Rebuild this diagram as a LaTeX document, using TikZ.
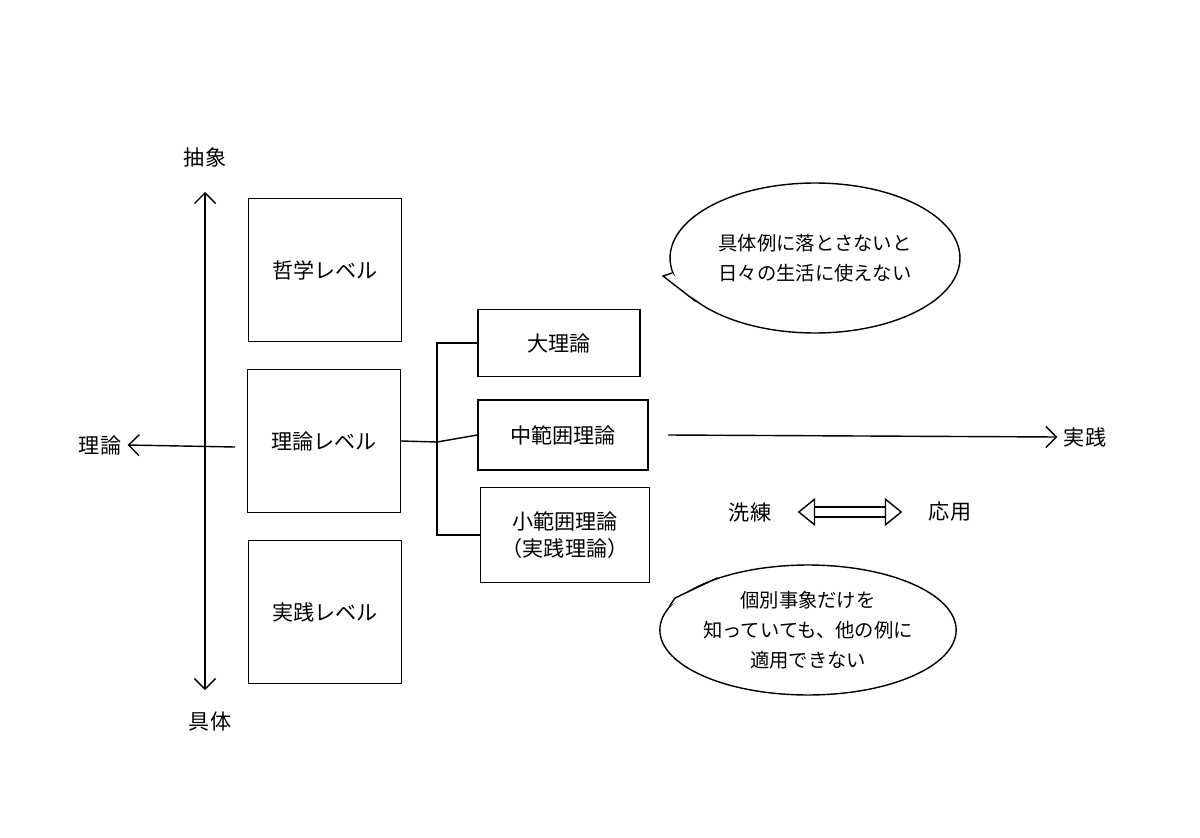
\documentclass[tikz,border=0pt]{standalone}
\usepackage{fontspec}
\setmainfont{Noto Sans CJK JP}
\usetikzlibrary{shapes.geometric,arrows.meta,calc}
\tikzset{
  lvl/.style={draw,thick,minimum width=3.06cm,minimum height=2.85cm,font=\fontsize{12}{15}\selectfont},
  thy/.style={draw,thick,font=\fontsize{12}{15}\selectfont,align=center},
  lbl/.style={font=\fontsize{12}{15}\selectfont},
  bub/.style={draw,thick,ellipse,inner sep=0pt,align=center,font=\fontsize{11}{17}\selectfont}
}
\begin{document}
\begin{tikzpicture}[x=0.02cm,y=-0.02cm,thick]
  \useasboundingbox (0,0) rectangle (1200,838);
  % axis
  \node[lbl] (abs) at (205,157) {抽象};
  \node[lbl] (con) at (210,722) {具体};
  \coordinate (ax1) at (205,192);
  \coordinate (ax2) at (205,690);
  \draw[{Straight Barb[length=6pt]}-{Straight Barb[length=6pt]}] (ax1) -- (ax2);
  % levels
  \node[lvl] (phil) at (325,270) {哲学レベル};
  \node[lvl] (theo) at (324,441) {理論レベル};
  \node[lvl] (prac) at (325,612) {実践レベル};
  \node[lbl] (thL) at (100,445) {理論};
  \coordinate (thA) at (235,447);
  \draw[-{Straight Barb[length=6pt]}] (thA) -- (thL.east);
  % theories
  \node[thy,minimum width=3.24cm,minimum height=1.34cm] (grand) at (559,343) {大理論};
  \node[thy,minimum width=3.4cm,minimum height=1.4cm] (mid) at (563,435) {中範囲理論};
  \node[thy,minimum width=3.38cm,minimum height=1.9cm] (small) at (565,535) {小範囲理論\\（実践理論）};
  \coordinate (br) at (437,442);
  \draw (theo.east) -- (br);
  \draw (grand.west) -| (br) |- (small.west);
  \draw (br) -- (mid.west);
  % practice
  \node[lbl] (pr) at (1085,437) {実践};
  \coordinate (prS) at (668,435);
  \draw[-{Straight Barb[length=6pt]}] (prS) -- (pr.west);
  \node[lbl] (ref) at (750,512) {洗練};
  \node[lbl] (app) at (950,512) {応用};
  \draw[double,double distance=5pt,{Triangle[open,length=10pt,width=16pt]}-{Triangle[open,length=10pt,width=16pt]}] ($(ref.east)+(20,0)$) -- ($(app.west)+(-20,0)$);
  % bubbles
  \node[bub,minimum width=5.8cm,minimum height=3cm] (b1) at (815,258) {具体例に落とさないと\\日々の生活に使えない};
  \coordinate (t1) at (663,276);
  \draw[fill=white] (b1.200) -- (t1) -- (b1.186);
  \node[bub,minimum width=5cm,minimum height=2.6cm] (b2) at (808,630) {個別事象だけを\\知っていても、他の例に\\適用できない};
  \coordinate (t2) at (675,598);
  \draw[fill=white] (b2.170) -- (t2) -- (b2.150);
\end{tikzpicture}
\end{document}
